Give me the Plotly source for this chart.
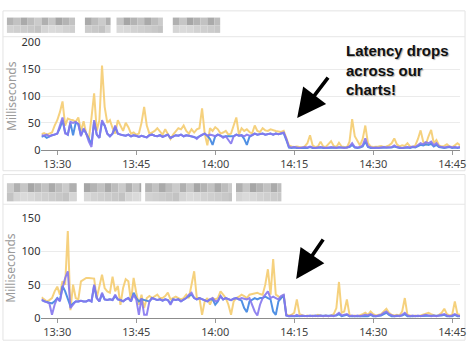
import plotly.graph_objects as go
import pandas as pd

W, H = 474, 351

# ---------------- data ----------------
times = pd.date_range("2024-01-01 13:27:00", periods=160, freq="30s")

top_yellow = [29, 31, 28, 30, 32, 45, 55, 70, 90, 45, 58, 56, 55, 52, 60, 35, 53, 30, 20, 60,
              105, 35, 55, 157, 80, 50, 55, 40, 30, 55, 45, 35, 50, 42, 30, 32, 28, 30, 50, 80,
              45, 30, 32, 35, 40, 33, 28, 38, 30, 20, 28, 35, 40, 38, 45, 35, 30, 38, 32, 38,
              40, 77, 30, 8, 40, 35, 42, 38, 30, 32, 35, 28, 30, 45, 60, 28, 40, 35, 38, 33,
              30, 45, 35, 33, 40, 36, 35, 38, 36, 35, 34, 33, 35, 20, 8, 6, 5, 6, 5, 4,
              6, 12, 27, 8, 5, 6, 15, 6, 5, 10, 16, 7, 5, 13, 6, 5, 4, 15, 57, 25,
              17, 8, 20, 45, 12, 6, 5, 5, 6, 7, 5, 6, 8, 12, 21, 10, 6, 8, 7, 12,
              6, 5, 8, 20, 36, 15, 10, 25, 37, 12, 18, 8, 6, 7, 10, 6, 5, 8, 12, 8]

top_purple = [27, 26, 28, 25, 27, 28, 30, 45, 60, 30, 28, 52, 50, 52, 48, 25, 40, 30, 15, 5,
              55, 28, 22, 55, 45, 30, 25, 30, 45, 30, 28, 27, 26, 28, 25, 27, 26, 24, 26, 25,
              23, 27, 28, 26, 25, 27, 24, 26, 28, 22, 25, 27, 26, 28, 25, 27, 26, 25, 24, 20,
              25, 28, 30, 26, 28, 27, 25, 28, 26, 22, 25, 18, 11, 25, 28, 26, 27, 25, 28, 26,
              27, 30, 28, 29, 30, 28, 29, 30, 28, 30, 29, 30, 32, 20, 5, 4, 5, 4, 3, 4,
              5, 4, 6, 4, 3, 4, 5, 4, 3, 4, 5, 4, 3, 5, 4, 3, 4, 6, 12, 5,
              4, 5, 8, 21, 6, 4, 3, 4, 3, 4, 5, 4, 4, 5, 8, 5, 4, 3, 4, 5,
              4, 6, 5, 8, 12, 10, 14, 12, 15, 8, 12, 6, 5, 4, 5, 6, 4, 5, 4, 5]

top_blue = [24, 26, 22, 25, 27, 28, 30, 40, 55, 32, 28, 50, 27, 50, 48, 27, 38, 30, 20, 10,
            52, 28, 22, 52, 45, 30, 25, 30, 42, 30, 28, 27, 26, 28, 25, 27, 26, 24, 26, 25,
            23, 27, 28, 26, 25, 27, 24, 26, 28, 22, 25, 27, 26, 28, 25, 27, 26, 25, 24, 22,
            25, 28, 30, 26, 20, 9, 25, 28, 26, 24, 25, 25, 24, 25, 28, 26, 27, 20, 9, 24,
            27, 30, 28, 29, 30, 28, 29, 30, 28, 30, 29, 30, 31, 18, 4, 3, 4, 3, 3, 4,
            4, 3, 5, 3, 3, 4, 4, 3, 3, 4, 4, 3, 3, 4, 3, 3, 4, 5, 9, 4,
            3, 4, 6, 15, 5, 3, 3, 4, 3, 3, 4, 3, 4, 4, 6, 4, 3, 3, 4, 4,
            3, 5, 4, 6, 9, 8, 10, 9, 11, 6, 9, 5, 4, 3, 4, 5, 3, 4, 3, 4]

bot_yellow = [31, 28, 25, 27, 30, 40, 47, 35, 55, 50, 130, 12, 50, 30, 28, 55, 58, 60, 60, 60,
              59, 30, 50, 65, 45, 40, 38, 62, 40, 48, 20, 45, 58, 55, 25, 60, 38, 20, 35, 15,
              30, 33, 30, 32, 35, 30, 30, 33, 38, 28, 30, 32, 30, 28, 30, 35, 30, 50, 70, 30,
              30, 5, 25, 30, 20, 30, 28, 30, 40, 35, 30, 20, 5, 25, 30, 32, 35, 33, 30, 35,
              36, 38, 38, 36, 35, 50, 73, 35, 88, 35, 32, 30, 35, 5, 4, 5, 8, 28, 6, 4,
              3, 4, 3, 4, 3, 5, 4, 3, 4, 3, 4, 6, 15, 54, 8, 10, 28, 5, 3, 4,
              3, 4, 6, 8, 5, 10, 6, 4, 5, 6, 10, 14, 8, 5, 4, 5, 4, 10, 30, 5,
              4, 3, 4, 3, 4, 5, 6, 8, 6, 4, 3, 5, 8, 14, 6, 4, 5, 25, 6, 5]

bot_purple = [28, 25, 24, 22, 5, 20, 30, 25, 45, 60, 70, 15, 20, 25, 25, 26, 25, 25, 27, 25,
              50, 30, 25, 38, 28, 27, 28, 27, 35, 28, 27, 25, 28, 30, 25, 35, 28, 5, 30, 5,
              5, 25, 30, 28, 27, 28, 26, 28, 27, 20, 28, 27, 28, 25, 27, 30, 35, 38, 30, 28,
              30, 28, 26, 25, 28, 30, 25, 26, 33, 28, 30, 28, 27, 29, 30, 28, 30, 29, 28, 30,
              20, 10, 4, 20, 30, 35, 40, 30, 32, 30, 28, 33, 35, 4, 3, 4, 3, 5, 3, 4,
              3, 3, 4, 3, 4, 3, 4, 3, 4, 3, 4, 3, 5, 8, 4, 5, 6, 3, 4, 3,
              4, 3, 4, 5, 4, 6, 4, 3, 4, 5, 8, 10, 6, 4, 3, 4, 3, 5, 8, 4,
              3, 4, 3, 4, 3, 4, 5, 4, 3, 4, 3, 4, 5, 6, 4, 3, 4, 6, 4, 3]

bot_blue = [27, 25, 24, 23, 22, 25, 30, 26, 48, 40, 30, 18, 22, 25, 25, 26, 25, 25, 27, 25,
            48, 30, 25, 36, 28, 27, 28, 27, 33, 28, 27, 25, 28, 30, 25, 38, 30, 25, 28, 27,
            26, 25, 30, 28, 27, 28, 26, 28, 27, 22, 28, 27, 28, 25, 27, 30, 33, 35, 30, 28,
            30, 28, 26, 25, 28, 28, 20, 25, 33, 28, 30, 28, 27, 29, 30, 28, 26, 15, 9, 25,
            28, 30, 28, 30, 30, 32, 30, 28, 10, 5, 25, 30, 33, 4, 3, 3, 3, 4, 3, 3,
            3, 3, 3, 3, 3, 3, 3, 3, 3, 3, 3, 3, 4, 6, 3, 4, 5, 3, 3, 3,
            3, 3, 3, 4, 3, 5, 3, 3, 3, 4, 6, 8, 5, 3, 3, 3, 3, 4, 6, 3,
            3, 3, 3, 3, 3, 3, 4, 3, 3, 3, 3, 3, 4, 5, 3, 3, 3, 5, 3, 3]

x_ticks = ["2024-01-01 13:30", "2024-01-01 13:45", "2024-01-01 14:00",
           "2024-01-01 14:15", "2024-01-01 14:30", "2024-01-01 14:45"]
x_tick_text = ["13:30", "13:45", "14:00", "14:15", "14:30", "14:45"]
top_y_ticks = [0, 50, 100, 150, 200]
bot_y_ticks = [0, 50, 100, 150]

annotation_text = "Latency drops<br>across our<br>charts!"
y_title = "Milliseconds"

# ---------------- styling ----------------
YELLOW = "#f6cd72"
PURPLE = "#8677ef"
BLUE = "#3f86e2"
FONT = "Noto Sans"


def px(x):
    return x / W


def py(y):
    return 1 - y / H


fig = go.Figure()
for ys, color, ax in [(top_yellow, YELLOW, 1), (top_blue, BLUE, 1), (top_purple, PURPLE, 1),
                      (bot_yellow, YELLOW, 2), (bot_blue, BLUE, 2), (bot_purple, PURPLE, 2)]:
    fig.add_trace(go.Scatter(
        x=times, y=ys, mode="lines",
        line=dict(color=color, width=2),
        opacity=0.9,
        xaxis="x" if ax == 1 else "x2", yaxis="y" if ax == 1 else "y2",
        showlegend=False, hoverinfo="skip"))

x_range = ["2024-01-01 13:27:00", "2024-01-01 14:46:30"]
xcommon = dict(type="date", range=x_range, tickmode="array", tickvals=x_ticks,
               ticktext=x_tick_text, ticks="outside", ticklen=4, tickcolor="#999",
               showline=True, linecolor="#8c8c8c", linewidth=1, showgrid=False,
               zeroline=False, tickfont=dict(family=FONT, size=11, color="#444"),
               fixedrange=True)
ycommon = dict(tickmode="array", showline=False, zeroline=False, gridcolor="#ececec",
               gridwidth=1, ticks="", tickfont=dict(family=FONT, size=11, color="#333"),
               fixedrange=True)

fig.update_layout(
    width=W, height=H,
    margin=dict(l=0, r=0, t=0, b=0),
    paper_bgcolor="white", plot_bgcolor="rgba(0,0,0,0)",
    xaxis=dict(domain=[px(42), px(466)], anchor="y", **xcommon),
    yaxis=dict(domain=[py(148), py(36)], range=[0, 200], tickvals=top_y_ticks,
               anchor="x", **ycommon),
    xaxis2=dict(domain=[px(42), px(466)], anchor="y2", **xcommon),
    yaxis2=dict(domain=[py(324), py(219)], range=[0, 150], tickvals=bot_y_ticks,
                anchor="x2", **ycommon),
)

shapes = []
# cards
for (top, bottom, sep) in [(3, 170, 30), (174, 347, 205)]:
    shapes.append(dict(type="rect", xref="paper", yref="paper",
                       x0=px(3), x1=px(471), y0=py(bottom), y1=py(top),
                       line=dict(color="#e3e3e3", width=1), fillcolor="rgba(0,0,0,0)",
                       layer="below"))
    shapes.append(dict(type="line", xref="paper", yref="paper",
                       x0=px(3), x1=px(471), y0=py(sep), y1=py(sep),
                       line=dict(color="#e6e6e6", width=1), layer="below"))

# pixelated (blurred) titles
shades_a = ["#b4b4b4", "#c2c2c2", "#aaaaaa", "#bdbdbd", "#cbcbcb", "#b0b0b0", "#c6c6c6", "#a6a6a6"]
shades_b = ["#d2d2d2", "#c8c8c8", "#dadada", "#cfcfcf", "#c3c3c3", "#d8d8d8", "#cccccc", "#d5d5d5"]
title_words = [
    (10, 26, [(7, 76), (86, 112), (118, 165), (175, 223)]),
    (183, 202, [(7, 78), (85, 143), (147, 235), (239, 285)]),
]
k = 0
for (y0, y1, words) in title_words:
    ym = (y0 + y1) / 2
    for (wx0, wx1) in words:
        x = wx0
        while x < wx1:
            xe = min(x + 7, wx1)
            shapes.append(dict(type="rect", xref="paper", yref="paper",
                               x0=px(x), x1=px(xe), y0=py(ym), y1=py(y0),
                               line=dict(width=0), fillcolor=shades_a[k % len(shades_a)],
                               layer="below"))
            shapes.append(dict(type="rect", xref="paper", yref="paper",
                               x0=px(x), x1=px(xe), y0=py(y1), y1=py(ym),
                               line=dict(width=0), fillcolor=shades_b[(k * 3) % len(shades_b)],
                               layer="below"))
            k += 1
            x = xe
fig.update_layout(shapes=shapes)

annotations = []
for cy in [(36 + 148) / 2, (219 + 324) / 2]:
    annotations.append(dict(text=y_title, xref="paper", yref="paper", x=px(11), y=py(cy),
                            textangle=-90, showarrow=False, xanchor="center", yanchor="middle",
                            font=dict(family=FONT, size=12, color="#9a9a9a")))
annotations.append(dict(text=annotation_text, xref="paper", yref="paper",
                        x=px(348), y=py(33), xanchor="left", yanchor="top", align="left",
                        showarrow=False,
                        font=dict(family="Liberation Sans", size=15, color="#111",
                                  weight="bold", shadow="1px 1px 1px #b0b0b0")))
for (hx, hy, tx, ty) in [(301, 115, 333, 73), (300, 283, 328, 242)]:
    annotations.append(dict(text="", xref="paper", yref="paper", x=px(hx), y=py(hy),
                            ax=tx - hx, ay=ty - hy, showarrow=True, arrowhead=2,
                            arrowsize=1.6, arrowwidth=3.6, arrowcolor="#000"))
fig.update_layout(annotations=annotations)

fig.write_html("out.html")
